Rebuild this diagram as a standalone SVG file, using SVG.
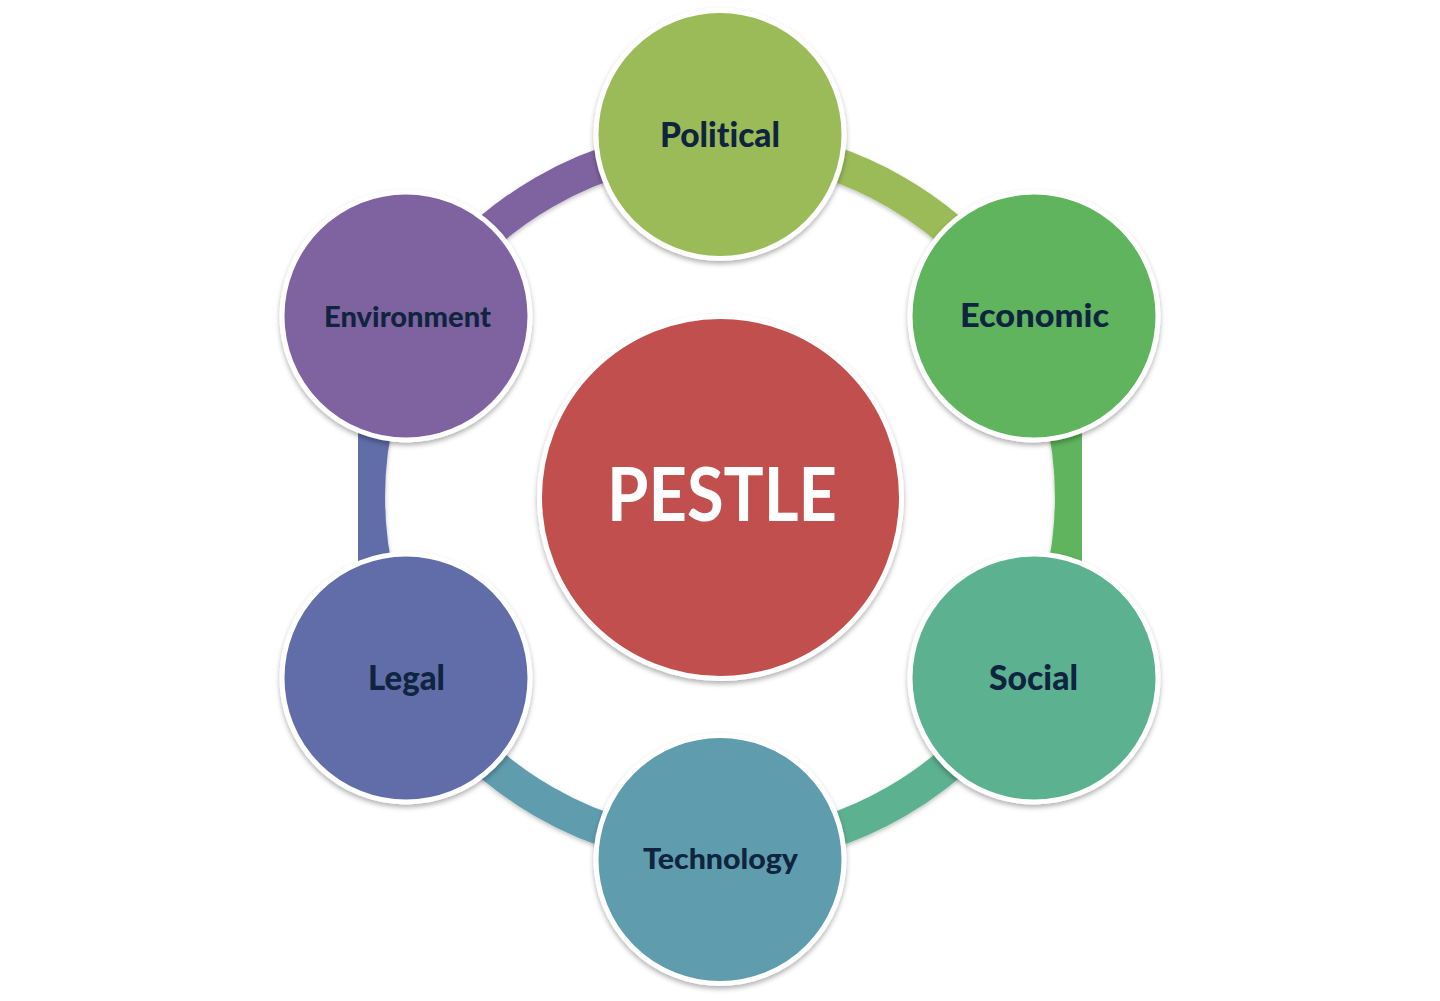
<svg xmlns="http://www.w3.org/2000/svg" width="1440" height="1001" viewBox="0 0 1440 1001">
  <defs>
    <filter id="sh" x="-20%" y="-20%" width="140%" height="150%">
      <feDropShadow dx="0" dy="3" stdDeviation="2.5" flood-color="#000" flood-opacity="0.3"/>
    </filter>
    <filter id="ash" x="-20%" y="-20%" width="140%" height="140%">
      <feDropShadow dx="0" dy="2" stdDeviation="2" flood-color="#000" flood-opacity="0.25"/>
    </filter>
    <style>
      .node { stroke: #ffffff; stroke-width: 5; filter: url(#sh); }
      .arc { fill: none; stroke-width: 34; filter: url(#ash); }
      .lbl { font-family: Lato, "Open Sans", "Liberation Sans", sans-serif; font-weight: 900; fill: #0F243E; font-variant-ligatures: none; }
      .main { font-family: Lato, "Open Sans", "Liberation Sans", sans-serif; font-weight: bold; fill: #ffffff; font-variant-ligatures: none; }
    </style>
  </defs>
  <rect width="1440" height="1001" fill="#ffffff"/>
  <g id="connectors">
    <path class="arc" stroke="#9BBB59" d="M 720 145 A 352 352 0 0 1 1024.8 321"/>
    <path class="arc" stroke="#5EB45D" d="M 1024.8 321 A 352 352 0 0 1 1024.8 673"/>
    <path class="arc" stroke="#5CB191" d="M 1024.8 673 A 352 352 0 0 1 720 849"/>
    <path class="arc" stroke="#5F9CAD" d="M 720 849 A 352 352 0 0 1 415.2 673"/>
    <path class="arc" stroke="#616DA8" d="M 415.2 673 A 352 352 0 0 1 415.2 321"/>
    <path class="arc" stroke="#7F63A0" d="M 415.2 321 A 352 352 0 0 1 720 145"/>
  </g>
  <g id="pestle">
    <circle class="node" cx="720.5" cy="497.5" r="181" fill="#C0504D"/>
    <text class="main" x="607" y="521" font-size="74" textLength="230" lengthAdjust="spacingAndGlyphs">PESTLE</text>
  </g>
  <g id="political">
    <circle class="node" cx="720" cy="134.5" r="124" fill="#9BBB59"/>
    <text class="lbl" x="660" y="147" font-size="34" textLength="120" lengthAdjust="spacingAndGlyphs">Political</text>
  </g>
  <g id="economic">
    <circle class="node" cx="1034" cy="316" r="124" fill="#5EB45D"/>
    <text class="lbl" x="960" y="327" font-size="33" textLength="149" lengthAdjust="spacingAndGlyphs">Economic</text>
  </g>
  <g id="social">
    <circle class="node" cx="1034" cy="678" r="124" fill="#5CB191"/>
    <text class="lbl" x="989" y="690" font-size="34" textLength="89" lengthAdjust="spacingAndGlyphs">Social</text>
  </g>
  <g id="technology">
    <circle class="node" cx="720" cy="859.5" r="124" fill="#5F9CAD"/>
    <text class="lbl" x="643" y="869" font-size="29" textLength="155" lengthAdjust="spacingAndGlyphs">Technology</text>
  </g>
  <g id="legal">
    <circle class="node" cx="406" cy="678" r="124" fill="#616DA8"/>
    <text class="lbl" x="368" y="690" font-size="34" textLength="77" lengthAdjust="spacingAndGlyphs">Legal</text>
  </g>
  <g id="environment">
    <circle class="node" cx="406" cy="316" r="124" fill="#7F63A0"/>
    <text class="lbl" x="324" y="327" font-size="29" textLength="167" lengthAdjust="spacingAndGlyphs">Environment</text>
  </g>
</svg>
